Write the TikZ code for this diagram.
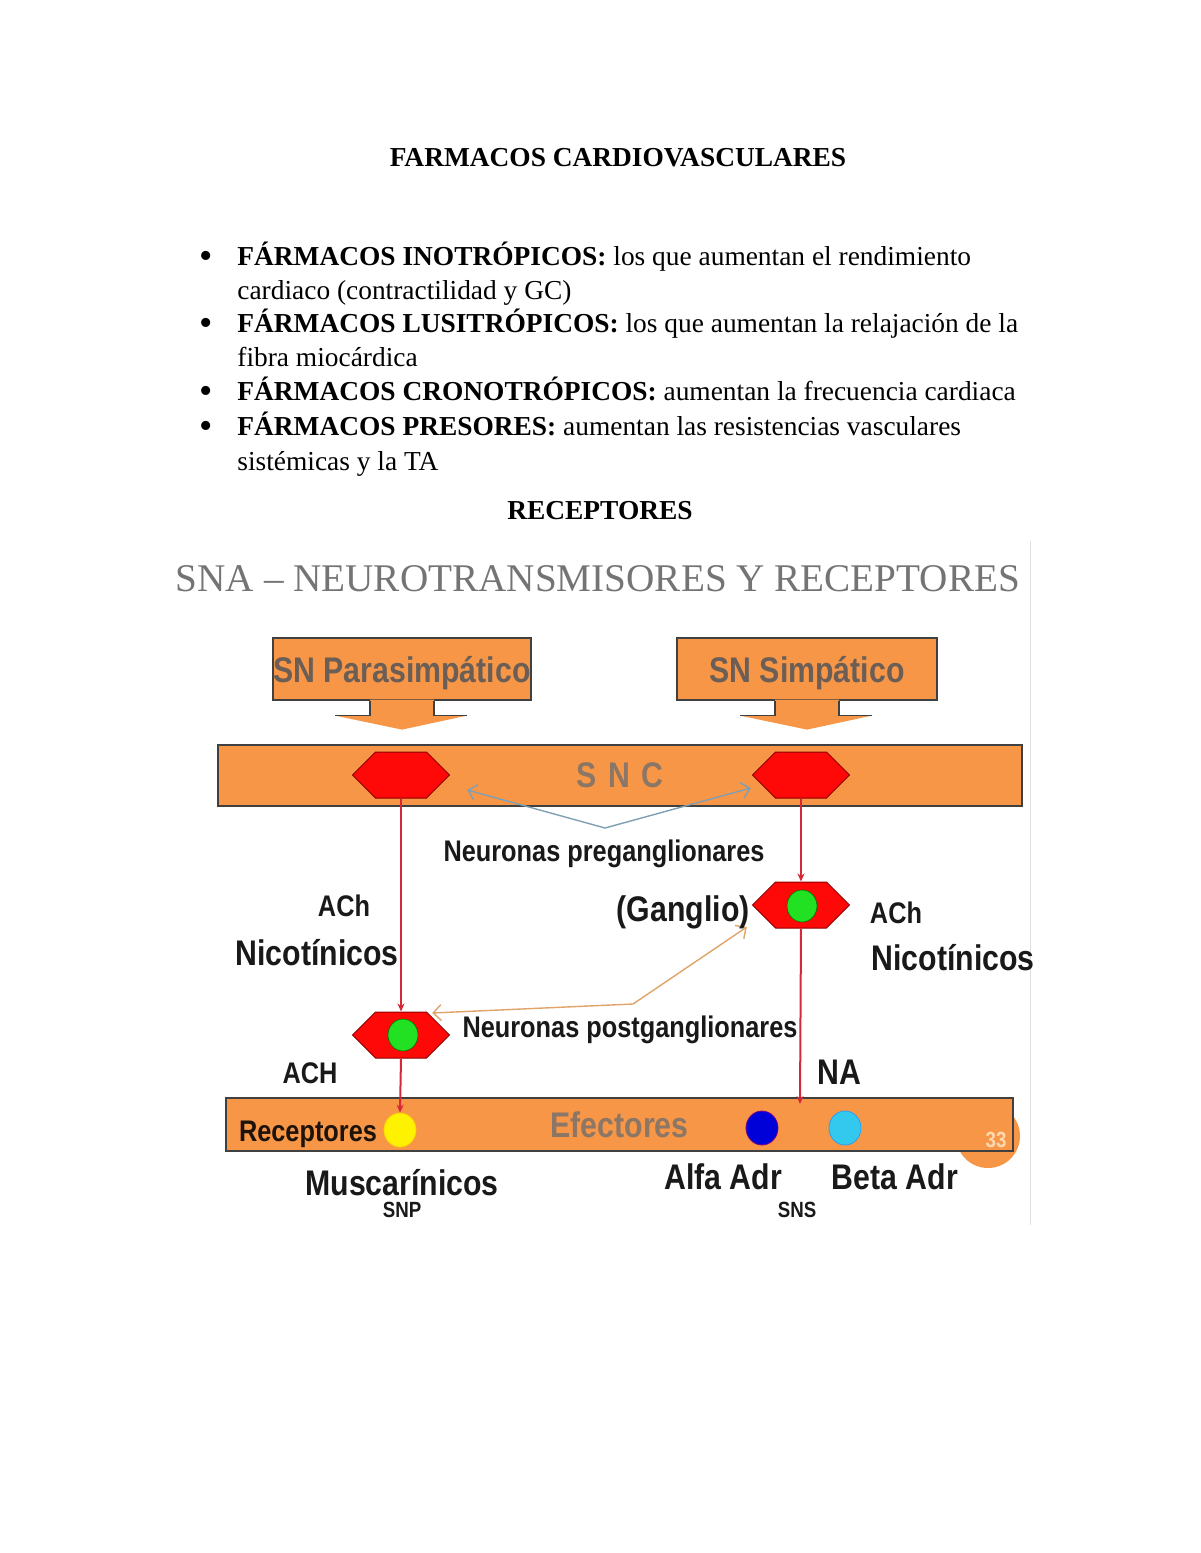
\documentclass[tikz,border=0pt]{standalone}
\usepackage{fontspec}
\setmainfont{Liberation Serif}
\newfontfamily\diagfont[FakeStretch=0.85]{Liberation Sans}
\usetikzlibrary{shapes.symbols,shapes.geometric,arrows.meta,calc}

\definecolor{snaorange}{HTML}{F79646}
\definecolor{hexred}{HTML}{FF0808}
\definecolor{cellgreen}{HTML}{22E022}
\definecolor{axonred}{HTML}{D82838}
\definecolor{hintblue}{HTML}{7F9FB4}
\definecolor{hinttan}{HTML}{E0A468}
\definecolor{boxtext}{HTML}{6A5E56}
\definecolor{snctext}{HTML}{8C7666}
\definecolor{titlegray}{HTML}{747474}
\definecolor{betacyan}{HTML}{33C8EE}

\newcommand{\lblbig}{\diagfont\bfseries\fontsize{17.8}{20}\selectfont}
\newcommand{\lblsmall}{\diagfont\bfseries\fontsize{14.9}{17}\selectfont}
\newcommand{\lbltiny}{\diagfont\bfseries\fontsize{11}{13}\selectfont}

\tikzset{
  band/.style={draw=black!75, fill=snaorange, line width=0.6pt, inner sep=0pt, text depth=0pt},
  hexa/.style={signal, signal to=east and west, signal pointer angle=90,
    fill=hexred, draw=red!55!black, line width=0.5pt,
    minimum width=48.5pt, minimum height=23pt, inner sep=0pt},
  cell/.style={ellipse, fill=cellgreen, draw=green!45!black, line width=0.3pt,
    minimum width=15pt, minimum height=16pt, inner sep=0pt},
  recep/.style={ellipse, minimum width=16pt, minimum height=17pt, inner sep=0pt},
  lbl/.style={inner sep=0pt, text depth=0pt, text=black!90},
  axon/.style={draw=axonred, line width=1pt, -{Stealth[length=4pt,width=3.5pt]}},
  hint/.style={line width=0.7pt, {Straight Barb[length=4pt]}-{Straight Barb[length=4pt]}},
  txt/.style={anchor=base west, inner sep=0pt, font=\fontsize{13.7}{17}\selectfont},
}

% block arrow under a box, #1 = box name
\newcommand{\blockarrow}[1]{%
  \fill[snaorange] ($(#1.south)+(-32,-1)$) -- ++(0,16) -- ++(-35,0)
    -- ($(#1.south)+(0,29)$) -- ($(#1.south)+(65,15)$) -- ++(-33,0)
    -- ++(0,-16) -- cycle;
  \draw[black!75, line width=0.6pt] ($(#1.south)+(-32,0)$) -- ++(0,15) -- ++(-35,0);
  \draw[black!75, line width=0.6pt] ($(#1.south)+(32,0)$) -- ++(0,15) -- ++(33,0);
}

\begin{document}
\begin{tikzpicture}[x=0.5pt, y=-0.5pt]
  \useasboundingbox (0,0) rectangle (1200,1553);
  \fill[white] (0,0) rectangle (1200,1553);

  % page text
  \node[txt, anchor=base, font=\bfseries\fontsize{13.7}{17}\selectfont] (head) at (618,166) {FARMACOS CARDIOVASCULARES};
  \foreach \yb in {268,335,403,438}
    \node[txt, anchor=base, font=\fontsize{19}{17}\selectfont] at (206,\yb) {\textbullet};
  \node[txt] (l1) at (237,265) {\textbf{FÁRMACOS INOTRÓPICOS:} los que aumentan el rendimiento};
  \node[txt] (l2) at (237,299) {cardiaco (contractilidad y GC)};
  \node[txt] (l3) at (237,332) {\textbf{FÁRMACOS LUSITRÓPICOS:} los que aumentan la relajación de la};
  \node[txt] (l4) at (237,366) {fibra miocárdica};
  \node[txt] (l5) at (237,400) {\textbf{FÁRMACOS CRONOTRÓPICOS:} aumentan la frecuencia cardiaca};
  \node[txt] (l6) at (237,435) {\textbf{FÁRMACOS PRESORES:} aumentan las resistencias vasculares};
  \node[txt] (l7) at (237,470) {sistémicas y la TA};
  \node[txt, anchor=base, font=\bfseries\fontsize{13.7}{17}\selectfont] (rec) at (600,519) {RECEPTORES};

  % diagram
  \draw[black!12] (1030,541) -- (1030,1225);
  \node[lbl, text=titlegray, font=\fontsize{19.6}{22}\selectfont] (sna) at (598,579) {SNA – NEUROTRANSMISORES Y RECEPTORES};

  \node[band, minimum width=129pt, minimum height=31pt, text=boxtext, font=\lblbig] (para) at (402,669) {SN Parasimpático};
  \node[band, minimum width=130pt, minimum height=31pt, text=boxtext, font=\lblbig] (simp) at (807,669) {SN Simpático};
  \blockarrow{para}
  \blockarrow{simp}

  \node[band, minimum width=402pt, minimum height=30.5pt, text=snctext, font=\lblbig] (snc) at (620,775.5) {S\,\,N\,\,C};
  \fill[snaorange] (988,1136) circle (16pt);
  \node[band, minimum width=393.5pt, minimum height=26.5pt, text=snctext, font=\lblbig] (eff) at (619.5,1124.5) {Efectores};
  \node[lbl, text=orange!30, font=\lbltiny] (pag) at (996,1140) {33};

  \node[hexa] (pre1) at (401,775) {};
  \node[hexa] (pre2) at (801,775) {};
  \node[hexa] (gan2) at (801,905) {};
  \node[hexa] (gan1) at (401,1035) {};
  \node[cell] (c2) at (802,906) {};
  \node[cell] (c1) at (403,1035) {};

  \node[recep, fill=yellow, draw=yellow!70!orange] (musc) at (400,1130) {};
  \node[recep, fill=blue!85!black, draw=violet] (alfa) at (762,1128) {};
  \node[recep, fill=betacyan, draw=betacyan!80!blue] (beta) at (845,1128) {};
  \coordinate (naend) at (800,1104);

  \draw[axon] (pre1.south) -- (gan1.north);
  \draw[axon] (pre2.south) -- (gan2.north);
  \draw[axon] (gan2.south) -- (naend);
  \draw[axon] (gan1.south) -- (musc.north);

  \coordinate (vtip) at (605,828);
  \coordinate (bend) at (633,1004);
  \draw[hint, hintblue] ($(pre1.east)+(17,15)$) -- (vtip) -- ($(pre2.west)+(-1,13)$);
  \draw[hint, hinttan] ($(gan1.east)+(-18,-22)$) -- (bend) -- ($(gan2.west)+(-5,22)$);

  % labels
  \node[lbl, font=\lblsmall] (npre) at (604,851) {Neuronas preganglionares};
  \node[lbl, font=\lblsmall] (ach1) at (344,906) {ACh};
  \node[lbl, font=\lblbig] (nic1) at (317,952) {Nicotínicos};
  \node[lbl, font=\lblbig, anchor=east] (gang) at (750,909) {(Ganglio)};
  \node[lbl, font=\lblsmall] (ach2) at (896,913) {ACh};
  \node[lbl, font=\lblbig] (nic2) at (953,957) {Nicotínicos};
  \node[lbl, font=\lblsmall] (npost) at (630,1027) {Neuronas postganglionares};
  \node[lbl, font=\lblsmall] (ach3) at (310,1073) {ACH};
  \node[lbl, font=\lblbig] (na) at (839,1072) {NA};
  \node[lbl, font=\lblsmall, text=black!85!brown] (recl) at (308,1131) {Receptores};
  \node[lbl, font=\lblbig] (muscl) at (402,1182) {Muscarínicos};
  \node[lbl, font=\lbltiny] (snp) at (402,1210) {SNP};
  \node[lbl, font=\lblbig] (alfal) at (723,1177) {Alfa Adr};
  \node[lbl, font=\lblbig] (betal) at (895,1177) {Beta Adr};
  \node[lbl, font=\lbltiny] (sns) at (797,1210) {SNS};
\end{tikzpicture}
\end{document}
